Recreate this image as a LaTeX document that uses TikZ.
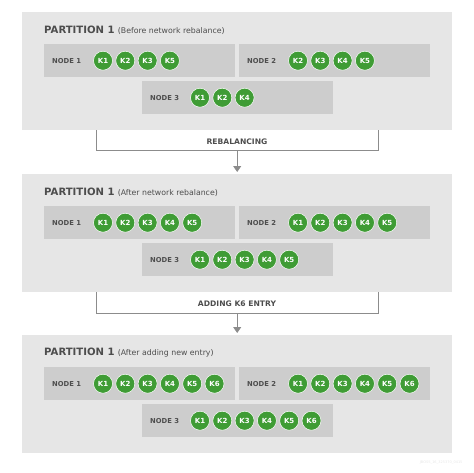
\documentclass[tikz,border=0pt]{standalone}
\usepackage{fontspec}
\setmainfont{DejaVu Sans}
\usepackage{tikz}
\usepackage{xcolor}
\usetikzlibrary{arrows.meta, positioning, calc}

\definecolor{panelgray}{HTML}{E6E6E6}
\definecolor{boxgray}{HTML}{CDCDCD}
\definecolor{keygreen}{HTML}{3F9C35}
\definecolor{txtgray}{HTML}{4D4D4D}
\definecolor{linegray}{HTML}{8C8C8C}

\tikzset{
  panel/.style={fill=panelgray, draw=none, anchor=north west, minimum width=430pt, minimum height=118pt, inner sep=0pt},
  hostbox/.style={fill=boxgray, draw=none, anchor=north west, minimum width=191pt, minimum height=33pt, inner sep=0pt},
  hostlabel/.style={text=txtgray, font=\bfseries\fontsize{6.8}{8}\selectfont, anchor=west, inner sep=0pt},
  keydot/.style={circle, fill=keygreen, draw=white, line width=0.5pt, minimum size=19pt, inner sep=0pt, text=white, font=\bfseries\fontsize{7}{8}\selectfont},
  title/.style={text=txtgray, anchor=west, inner sep=0pt},
  stepname/.style={text=txtgray, font=\bfseries\fontsize{7.6}{9}\selectfont},
  bracket/.style={draw=linegray, line width=0.8pt},
  arr/.style={draw=linegray, line width=0.8pt, -{Triangle[width=8pt,length=6pt]}, shorten >=2pt}
}

\begin{document}
\begin{tikzpicture}[x=1pt, y=-1pt]
\useasboundingbox (0,0) rectangle (474,472);
% Panels
\node[panel] (p1) at (22,12) {};
\node[panel] (p2) at (22,174) {};
\node[panel] (p3) at (22,335) {};
% Titles
\node[title] (t1) at (44,30) {{\bfseries\fontsize{10.1}{12}\selectfont PARTITION 1} {\fontsize{7.8}{9}\selectfont (Before network rebalance)}};
\node[title] (t2) at (44,192) {{\bfseries\fontsize{10.1}{12}\selectfont PARTITION 1} {\fontsize{7.8}{9}\selectfont (After network rebalance)}};
\node[title] (t3) at (44,353) {{\bfseries\fontsize{10.1}{12}\selectfont PARTITION 1} {\fontsize{7.8}{9}\selectfont (After adding new entry)}};
% Host boxes
\foreach \p/\y in {1/12, 2/174, 3/335} {
  \node[hostbox] (n\p a) at (44,\y+32) {};
  \node[hostbox] (n\p b) at (239,\y+32) {};
  \node[hostbox] (n\p c) at (142,\y+69) {};
  \node[hostlabel] at ($(n\p a.west)+(8,0)$) {NODE 1};
  \node[hostlabel] at ($(n\p b.west)+(8,0)$) {NODE 2};
  \node[hostlabel] at ($(n\p c.west)+(8,0)$) {NODE 3};
}
% Keys, partition 1
\foreach \k [count=\i from 0] in {1,2,3,5}
  \node[keydot] (k1a\i) at ($(n1a.west)+(59+22.3*\i,0)$) {K\k};
\foreach \k [count=\i from 0] in {2,3,4,5}
  \node[keydot] (k1b\i) at ($(n1b.west)+(59+22.3*\i,0)$) {K\k};
\foreach \k [count=\i from 0] in {1,2,4}
  \node[keydot] (k1c\i) at ($(n1c.west)+(58+22.3*\i,0)$) {K\k};
% Keys, partition 2
\foreach \k [count=\i from 0] in {1,2,3,4,5} {
  \node[keydot] (k2a\i) at ($(n2a.west)+(59+22.3*\i,0)$) {K\k};
  \node[keydot] (k2b\i) at ($(n2b.west)+(59+22.3*\i,0)$) {K\k};
  \node[keydot] (k2c\i) at ($(n2c.west)+(58+22.3*\i,0)$) {K\k};
}
% Keys, partition 3
\foreach \k [count=\i from 0] in {1,2,3,4,5,6} {
  \node[keydot] (k3a\i) at ($(n3a.west)+(59+22.3*\i,0)$) {K\k};
  \node[keydot] (k3b\i) at ($(n3b.west)+(59+22.3*\i,0)$) {K\k};
  \node[keydot] (k3c\i) at ($(n3c.west)+(58+22.3*\i,0)$) {K\k};
}
% Steps between panels
\coordinate (b1l) at (96,150);
\coordinate (b1r) at (378,150);
\coordinate (b2l) at (96,313);
\coordinate (b2r) at (378,313);
\draw[bracket] (b1l |- p1.south) -- (b1l) -- (b1r) -- (b1r |- p1.south);
\draw[bracket] (b2l |- p2.south) -- (b2l) -- (b2r) -- (b2r |- p2.south);
\node[stepname] (s1) at (237,142) {REBALANCING};
\node[stepname] (s2) at (237,304) {ADDING K6 ENTRY};
\draw[arr] (p1.south |- b1l) -- (p2.north);
\draw[arr] (p2.south |- b2l) -- (p3.north);
% Figure id
\node[text=panelgray, font=\fontsize{3.5}{4}\selectfont, anchor=east] (fid) at (466,463) {JBOSS\_16\_325370\_0415};
\end{tikzpicture}
\end{document}
